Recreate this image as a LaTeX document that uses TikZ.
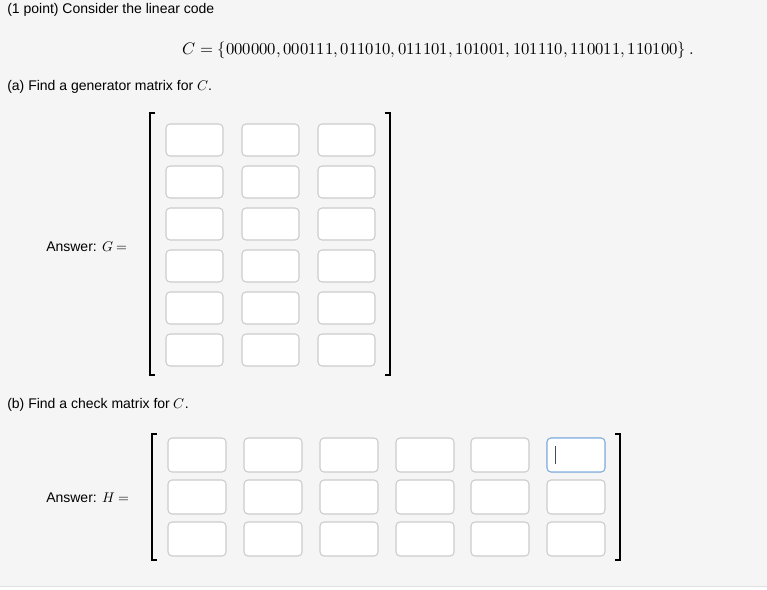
\documentclass[tikz,border=0pt]{standalone}
\usepackage{fontspec}
\setmainfont{Liberation Sans}
\usepackage{unicode-math}
\setmathfont{Latin Modern Math}
\begin{document}
\begin{tikzpicture}[x=0.75pt,y=-0.75pt,
  cell/.style={draw=black!20,fill=white,rounded corners=3pt,line width=0.8pt},
  txt/.style={anchor=west,inner sep=0pt,font=\fontsize{10.5}{12}\selectfont},
  brk/.style={line width=1.1pt}]
\useasboundingbox (0,0) rectangle (767,589);
\fill[black!4] (0,0) rectangle (767,586);
\draw[black!12] (0,586.5) -- (767,586.5);
\node[txt] (t1) at (7,10) {(1 point) Consider the linear code};
\node[anchor=center,inner sep=0pt,font=\fontsize{12.5}{14}\selectfont] (f) at (438,50) {$C=\{000000,000111,011010,011101,101001,101110,110011,110100\}\,.$};
\node[txt] (ta) at (7,87) {(a) Find a generator matrix for $C$.};
\node[txt] (ag) at (46,247) {Answer: $G=$};
\foreach \c/\x in {1/166,2/242,3/318}
  \foreach \r in {0,...,5}
    \draw[cell] (\x,124+42*\r) rectangle ++(57,32);
\draw[brk] (155,113) -- (150,113) -- (150,375) -- (155,375);
\draw[brk] (385,113) -- (390,113) -- (390,375) -- (385,375);
\node[txt] (tb) at (7,405) {(b) Find a check matrix for $C$.};
\node[txt] (ah) at (46,498) {Answer: $H=$};
\foreach \x in {168,244,320,396,471,547}
  \foreach \r in {0,1,2}
    \draw[cell] (\x,438+42*\r) rectangle ++(58,34);
\draw[cell,draw=cyan!60!blue!50] (547,438) rectangle ++(58,34);
\draw[black!70] (555,446) -- (555,464);
\draw[brk] (157,434) -- (152,434) -- (152,560) -- (157,560);
\draw[brk] (615,434) -- (620,434) -- (620,560) -- (615,560);
\end{tikzpicture}
\end{document}
